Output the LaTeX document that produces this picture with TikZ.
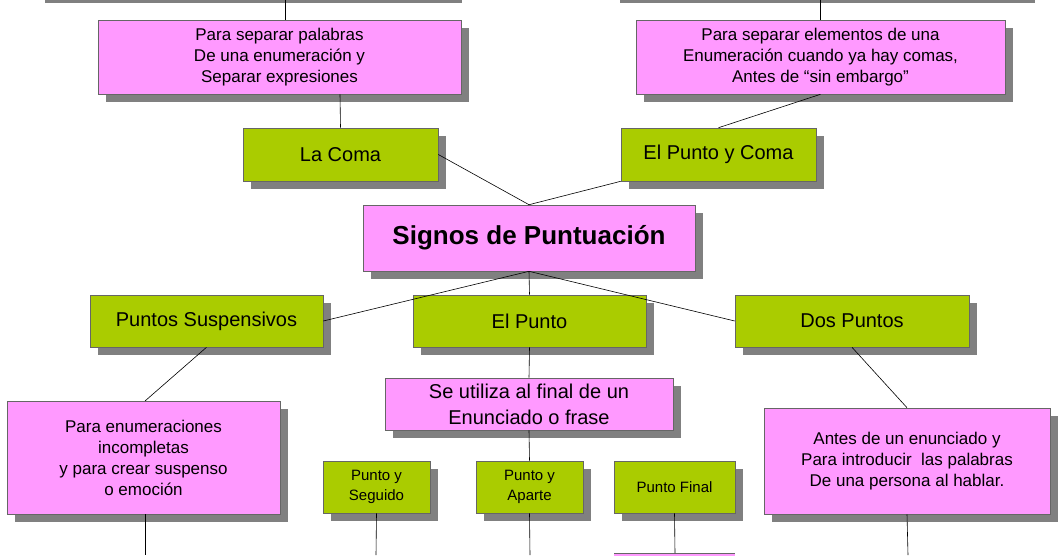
\documentclass[tikz,border=0pt]{standalone}
\usepackage{fontspec}
\setmainfont{Liberation Sans}
\usetikzlibrary{shadows}
\definecolor{pinkc}{HTML}{FF99FF}
\definecolor{greenc}{HTML}{AACC00}
\tikzset{
 box/.style={draw=black!60, line width=0.6pt, align=center, inner sep=0pt,
   drop shadow={shadow xshift=8pt, shadow yshift=-8pt, fill=black!50, opacity=1}},
 pinkbox/.style={box, fill=pinkc, font=\fontsize{17}{21}\selectfont},
 greenbox/.style={box, fill=greenc, font=\fontsize{20}{24}\selectfont},
 smallgreen/.style={box, fill=greenc, font=\fontsize{15}{20}\selectfont},
 conn/.style={draw=black, line width=0.6pt}
}
\begin{document}
\begin{tikzpicture}[x=1pt,y=-1pt]
\useasboundingbox[fill=white] (0,0) rectangle (1058,555);
% cut boxes at top
\fill[black!50] (45,0) rectangle (462,3);
\fill[black!50] (620,0) rectangle (1035,3);
\coordinate (t1) at (285,0);
\coordinate (t2) at (820,0);
\node[pinkbox, minimum width=363pt, minimum height=74pt] (b1) at (279.5,57) {Para separar palabras\\De una enumeración y\\Separar expresiones};
\node[pinkbox, minimum width=369pt, minimum height=74pt] (b2) at (820.5,57) {Para separar elementos de una\\Enumeración cuando ya hay comas,\\Antes de “sin embargo”};
\node[greenbox, minimum width=195pt, minimum height=53pt] (coma) at (340.5,154.5) {La Coma};
\node[greenbox, minimum width=195pt, minimum height=53pt] (pyc) at (718.5,154.5) {El Punto y Coma};
\node[pinkbox, minimum width=332pt, minimum height=66pt, font=\fontsize{26}{30}\selectfont\bfseries] (sig) at (529,238) {Signos de Puntuación};
\node[greenbox, minimum width=233pt, minimum height=52pt] (ps) at (206.5,321) {Puntos Suspensivos};
\node[greenbox, minimum width=233pt, minimum height=52pt] (ep) at (529.5,321) {El Punto};
\node[greenbox, minimum width=234pt, minimum height=52pt] (dp) at (852,321) {Dos Puntos};
\node[pinkbox, minimum width=288pt, minimum height=52pt, font=\fontsize{20}{26}\selectfont] (se) at (529,404) {Se utiliza al final de un\\Enunciado o frase};
\node[pinkbox, minimum width=273pt, minimum height=113pt] (pl) at (143.5,457.5) {Para enumeraciones\\incompletas\\y para crear suspenso\\o emoción};
\node[pinkbox, minimum width=286pt, minimum height=106pt] (pr) at (907,461) {Antes de un enunciado y\\Para introducir\ \ las palabras\\De una persona al hablar.};
\node[smallgreen, minimum width=107pt, minimum height=52pt] (pys) at (376.5,487) {Punto y\\Seguido};
\node[smallgreen, minimum width=107pt, minimum height=52pt] (pya) at (529.5,487) {Punto y\\Aparte};
\node[smallgreen, minimum width=121pt, minimum height=52pt] (pf) at (674.5,487) {Punto Final};
\fill[pinkc] (614,553) rectangle (735,556);
\draw[black!60] (614,553) -- (735,553);
\coordinate (bl) at (145,555);
\coordinate (bs) at (376,555);
\coordinate (ba) at (530,555);
\coordinate (bf) at (675,553);
\coordinate (br) at (908,555);
% connectors
\draw[conn] (t1) -- (t1 |- b1.north);
\draw[conn] (t2) -- (t2 |- b2.north);
\draw[conn] (b1.south -| 340,0) -- (coma.north);
\draw[conn] (b2.south) -- (pyc.north);
\draw[conn] (coma.east) -- (sig.north);
\draw[conn] (pyc.south west) -- (sig.north);
\draw[conn] (sig.south) -- (ps.east);
\draw[conn] (sig.south) -- (ep.north);
\draw[conn] (sig.south) -- (dp.west);
\draw[conn] (ep.south) -- (se.north);
\draw[conn] (ps.south) -- (145,401);
\draw[conn] (dp.south) -- (pr.north);
\draw[conn] (se.south) -- (pya.north);
\draw[conn] (145,514) -- (bl);
\draw[conn] (pys.south) -- (bs);
\draw[conn] (pya.south) -- (ba);
\draw[conn] (pf.south) -- (bf);
\draw[conn] (pr.south) -- (br);
\end{tikzpicture}
\end{document}
